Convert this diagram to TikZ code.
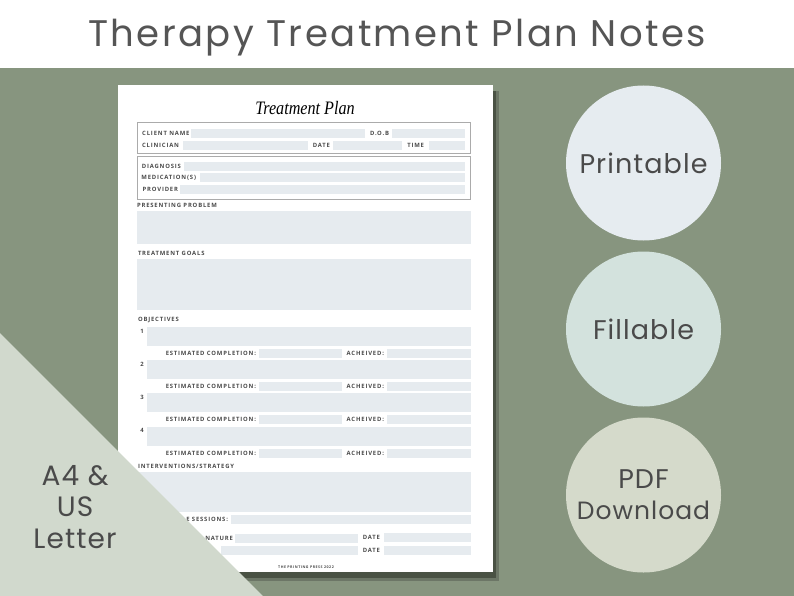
\documentclass[tikz,border=0pt]{standalone}
\usepackage{fontspec}
\usetikzlibrary{positioning}
\setmainfont{Poppins}
\newfontfamily\titlefont[LetterSpace=6.6]{Poppins}
\newfontfamily\widefont[LetterSpace=4]{Poppins}
\newfontfamily\formfont[LetterSpace=14]{Open Sans}
\newfontfamily\handfont{Liberation Serif}
\definecolor{sage}{HTML}{87957F}
\definecolor{shadowdark}{HTML}{4A5244}
\definecolor{shadowsoft}{HTML}{6C7666}
\definecolor{fieldgrey}{HTML}{E6EBEF}
\definecolor{framegrey}{HTML}{ABABAB}
\definecolor{inkgrey}{HTML}{555555}
\definecolor{labelgrey}{HTML}{4A4A4A}
\definecolor{cornergreen}{HTML}{D1D9CD}
\definecolor{printblue}{HTML}{E6ECF0}
\definecolor{fillmint}{HTML}{D3E2DD}
\definecolor{pdfsand}{HTML}{D5DACB}
\tikzstyle{band} = [anchor=north west, inner sep=0, outer sep=0]
\tikzstyle{field} = [anchor=north west, fill=fieldgrey, inner sep=0, outer sep=0]
\tikzstyle{frame} = [anchor=north west, draw=framegrey, line width=1pt, inner sep=0, outer sep=0]
\tikzstyle{formlabel} = [inner sep=0, outer sep=0, text=labelgrey, font=\formfont\bfseries\fontsize{5.9}{6}\selectfont]
\tikzstyle{badge} = [circle, minimum size=155pt, inner sep=0, align=center, text=labelgrey, font=\widefont\fontsize{27}{31}\selectfont]

\begin{document}
\begin{tikzpicture}[x=1pt, y=-1pt, node distance=3pt]
  \useasboundingbox (0,0) rectangle (794,596);

  \node [band, fill=white, minimum width=794pt, minimum height=68pt] (topband) at (0,0) {};
  \node [band, fill=sage, minimum width=794pt, minimum height=528pt] (ground) at (0,68) {};
  \node [text=inkgrey, font=\titlefont\fontsize{37}{42}\selectfont] (title) at (397,38) {Therapy Treatment Plan Notes};

  % sheet
  \node [band, fill=shadowsoft, minimum width=381pt, minimum height=490pt] (softshadow) at (118,91) {};
  \node [band, fill=shadowdark, minimum width=378pt, minimum height=487pt] (shadow) at (118,91) {};
  \node [band, fill=white, minimum width=375pt, minimum height=487pt] (sheet) at (118,85) {};
  \node [font=\handfont\itshape\fontsize{19}{24}\selectfont] (sheettitle) at (305,108) {\scalebox{.85}[1]{Treatment Plan}};

  % client block
  \node [frame, minimum width=333pt, minimum height=31pt] (clientbox) at (137,123) {};
  \node [field, minimum width=174pt, minimum height=9pt] (fclient) at (191,129) {};
  \node [field, minimum width=73pt, minimum height=9pt] (fdob) at (392,129) {};
  \node [field, minimum width=125pt, minimum height=9pt] (fclinician) at (183,141) {};
  \node [field, minimum width=69pt, minimum height=9pt] (fdate) at (333,141) {};
  \node [field, minimum width=36pt, minimum height=9pt] (ftime) at (429,141) {};
  \node [formlabel, left=1.5pt of fclient] (lclient) {CLIENT NAME};
  \node [formlabel, left=3pt of fdob] (ldob) {D.O.B};
  \node [formlabel, left=4pt of fclinician] (lclinician) {CLINICIAN};
  \node [formlabel, left=3pt of fdate] (ldate) {DATE};
  \node [formlabel, left=5pt of ftime] (ltime) {TIME};

  % diagnosis block
  \node [frame, minimum width=333pt, minimum height=42pt] (diagbox) at (137,157) {};
  \node [field, minimum width=281pt, minimum height=9pt] (fdiag) at (184,162) {};
  \node [field, minimum width=265pt, minimum height=9pt] (fmeds) at (200,173) {};
  \node [field, minimum width=285pt, minimum height=9pt] (fprovider) at (180,185) {};
  \node [formlabel, left=3pt of fdiag] (ldiag) {DIAGNOSIS};
  \node [formlabel, left=4pt of fmeds] (lmeds) {MEDICATION(S)};
  \node [formlabel, left=2pt of fprovider] (lprovider) {PROVIDER};

  % problem and goals
  \node [field, minimum width=333.5pt, minimum height=33pt] (fproblem) at (137,211) {};
  \node [formlabel, above right=3pt and 0pt of fproblem.north west] (lproblem) {PRESENTING PROBLEM};
  \node [field, minimum width=333.5pt, minimum height=51pt] (fgoals) at (137,259) {};
  \node [formlabel, above right=3pt and 1pt of fgoals.north west] (lgoals) {TREATMENT GOALS};

  % objectives
  \node [formlabel, anchor=west] (lobjectives) at (138,319.5) {OBJECTIVES};
  \node [field, minimum width=323.5pt, minimum height=19pt] (fobj1) at (147,327) {};
  \node [field, minimum width=83pt, minimum height=9pt] (fest1) at (259,349) {};
  \node [field, minimum width=83.5pt, minimum height=9pt] (fach1) at (387,349) {};
  \node [field, minimum width=323.5pt, minimum height=19pt] (fobj2) at (147,360) {};
  \node [field, minimum width=83pt, minimum height=9pt] (fest2) at (259,382) {};
  \node [field, minimum width=83.5pt, minimum height=9pt] (fach2) at (387,382) {};
  \node [field, minimum width=323.5pt, minimum height=19pt] (fobj3) at (147,393) {};
  \node [field, minimum width=83pt, minimum height=9pt] (fest3) at (259,415) {};
  \node [field, minimum width=83.5pt, minimum height=9pt] (fach3) at (387,415) {};
  \node [field, minimum width=323.5pt, minimum height=19pt] (fobj4) at (147,427) {};
  \node [field, minimum width=83pt, minimum height=9pt] (fest4) at (259,449) {};
  \node [field, minimum width=83.5pt, minimum height=9pt] (fach4) at (387,449) {};
  \node [formlabel] (num1) at (142,331) {1};
  \node [formlabel] (num2) at (142,364) {2};
  \node [formlabel] (num3) at (142,397) {3};
  \node [formlabel] (num4) at (142,430) {4};
  \node [formlabel, left=of fest1] (lest1) {ESTIMATED COMPLETION:};
  \node [formlabel, left=of fach1] (lach1) {ACHEIVED:};
  \node [formlabel, left=of fest2] (lest2) {ESTIMATED COMPLETION:};
  \node [formlabel, left=of fach2] (lach2) {ACHEIVED:};
  \node [formlabel, left=of fest3] (lest3) {ESTIMATED COMPLETION:};
  \node [formlabel, left=of fach3] (lach3) {ACHEIVED:};
  \node [formlabel, left=of fest4] (lest4) {ESTIMATED COMPLETION:};
  \node [formlabel, left=of fach4] (lach4) {ACHEIVED:};

  % interventions and sign off
  \node [field, minimum width=333.5pt, minimum height=40pt] (fstrategy) at (137,472) {};
  \node [formlabel, above right=3pt and 1pt of fstrategy.north west] (lstrategy) {INTERVENTIONS/STRATEGY};
  \node [field, minimum width=239.5pt, minimum height=8.5pt] (fsessions) at (231,515) {};
  \node [formlabel, left=of fsessions] (lsessions) {E SESSIONS:};
  \node [field, minimum width=123pt, minimum height=9pt] (fsign) at (235,534) {};
  \node [field, minimum width=86.5pt, minimum height=9pt] (fsigndate) at (384,533) {};
  \node [field, minimum width=137pt, minimum height=9pt] (fname) at (221,546) {};
  \node [field, minimum width=86.5pt, minimum height=9pt] (fnamedate) at (384,546) {};
  \node [formlabel, left=2pt of fsign] (lsign) {NATURE};
  \node [formlabel, left=4pt of fsigndate] (lsigndate) {DATE};
  \node [formlabel, left=4pt of fnamedate] (lnamedate) {DATE};
  \node [formlabel, font=\formfont\bfseries\fontsize{3.6}{4}\selectfont] (footer) at (306,567) {THE PRINTING PRESS 2022};

  % corner
  \fill [cornergreen] (0,333) -- (263,596) -- (0,596) -- cycle;
  \node [align=center, text=labelgrey, font=\widefont\fontsize{28}{31.5}\selectfont] (paper) at (75,507) {A4 \&\\US\\Letter};

  % badges
  \node [badge, fill=printblue] (printable) at (643.5,163) {Printable};
  \node [badge, fill=fillmint] (fillable) at (643.5,329) {Fillable};
  \node [badge, fill=pdfsand] (download) at (643.5,495) {PDF\\{\fontsize{25}{31}\selectfont Download}};
\end{tikzpicture}
\end{document}
